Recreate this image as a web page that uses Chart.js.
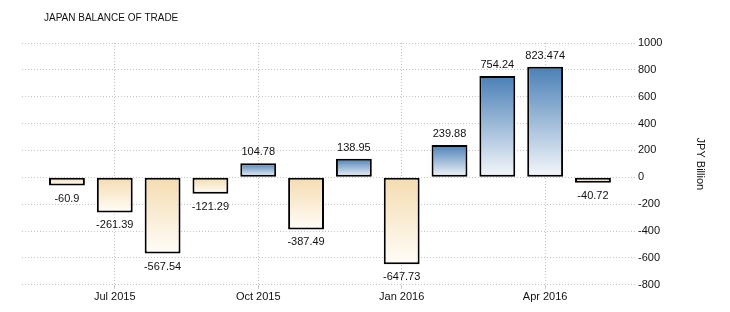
<!DOCTYPE html>
<html>
<head>
<meta charset="utf-8">
<script src="https://cdn.jsdelivr.net/npm/chart.js@4"></script>
<style>
  body { margin: 0; background: #fff; }
</style>
</head>
<body>
<canvas id="tradeChart" width="730" height="312"></canvas>
<script>
// monthly balance, JPY billion
const months = ['Jun 2015', 'Jul 2015', 'Aug 2015', 'Sep 2015', 'Oct 2015', 'Nov 2015',
                'Dec 2015', 'Jan 2016', 'Feb 2016', 'Mar 2016', 'Apr 2016', 'May 2016'];
const balance = [-60.9, -261.39, -567.54, -121.29, 104.78, -387.49,
                 138.95, -647.73, 239.88, 754.24, 823.474, -40.72];
const xTickLabels = ['Jul 2015', 'Oct 2015', 'Jan 2016', 'Apr 2016'];

const chartTitle = 'JAPAN BALANCE OF TRADE';
const unitLabel = 'JPY Billion';

Chart.defaults.font.family = "'Liberation Sans', Arial, sans-serif";
Chart.defaults.font.size = 11;
Chart.defaults.color = '#111';

function barGradient(context) {
  const chart = context.chart;
  if (!chart.chartArea || !context.parsed) return '#ccc';
  const y = chart.scales.y;
  const v = context.parsed.y;
  const top = y.getPixelForValue(Math.max(v, 0));
  const bottom = y.getPixelForValue(Math.min(v, 0));
  const g = chart.ctx.createLinearGradient(0, top, 0, bottom);
  if (v >= 0) {
    g.addColorStop(0, '#4a80b6');
    g.addColorStop(1, '#f6f8fb');
  } else {
    g.addColorStop(0, '#f4dcb0');
    g.addColorStop(1, '#fffdf8');
  }
  return g;
}

// value labels above / below each bar
const valueLabels = {
  id: 'valueLabels',
  afterDatasetsDraw(chart) {
    const ctx = chart.ctx;
    const meta = chart.getDatasetMeta(0);
    ctx.save();
    ctx.font = "11px 'Liberation Sans', Arial, sans-serif";
    ctx.fillStyle = '#111';
    ctx.textAlign = 'center';
    ctx.textBaseline = 'middle';
    meta.data.forEach((bar, i) => {
      const v = balance[i];
      const y = v >= 0 ? bar.y - 11 : bar.y + 13;
      ctx.fillText(String(v), bar.x, y);
    });
    ctx.restore();
  }
};

const headTitle = {
  id: 'headTitle',
  afterDraw(chart) {
    const ctx = chart.ctx;
    ctx.save();
    ctx.font = "10px 'Liberation Sans', Arial, sans-serif";
    ctx.fillStyle = '#111';
    ctx.textBaseline = 'middle';
    ctx.fillText(chartTitle, 44, 18);
    ctx.restore();
  }
};

new Chart(document.getElementById('tradeChart'), {
  type: 'bar',
  data: {
    datasets: [{
      data: balance.map((v, i) => ({ x: i, y: v })),
      backgroundColor: barGradient,
      borderColor: '#000',
      borderWidth: 2,
      borderSkipped: false,
      categoryPercentage: 1,
      barPercentage: 0.75
    }]
  },
  options: {
    responsive: false,
    animation: false,
    layout: { padding: { left: 22, top: 43, right: 0, bottom: 6 } },
    plugins: { legend: { display: false }, tooltip: { enabled: false } },
    scales: {
      x: {
        type: 'linear',
        min: -0.94,
        max: 11.9,
        offset: false,
        afterBuildTicks: (scale) => {
          scale.ticks = xTickLabels.map(l => ({ value: months.indexOf(l) }));
        },
        ticks: {
          autoSkip: false,
          maxRotation: 0,
          padding: 2,
          callback: (value) => months[value]
        },
        grid: { color: '#c4c4c4', offset: false, tickLength: 4 },
        border: { display: false, dash: [1, 2] }
      },
      y: {
        position: 'right',
        min: -800,
        max: 1000,
        afterFit: (scale) => { scale.width = 94; },
        ticks: { stepSize: 200, padding: 2, callback: (value) => String(value) },
        grid: { color: '#c4c4c4', drawTicks: false },
        border: { display: false, dash: [1, 2] },
        title: {
          display: true,
          text: unitLabel,
          font: { size: 11 },
          padding: { top: 23, bottom: 0 }
        }
      }
    }
  },
  plugins: [valueLabels, headTitle]
});
</script>
</body>
</html>
